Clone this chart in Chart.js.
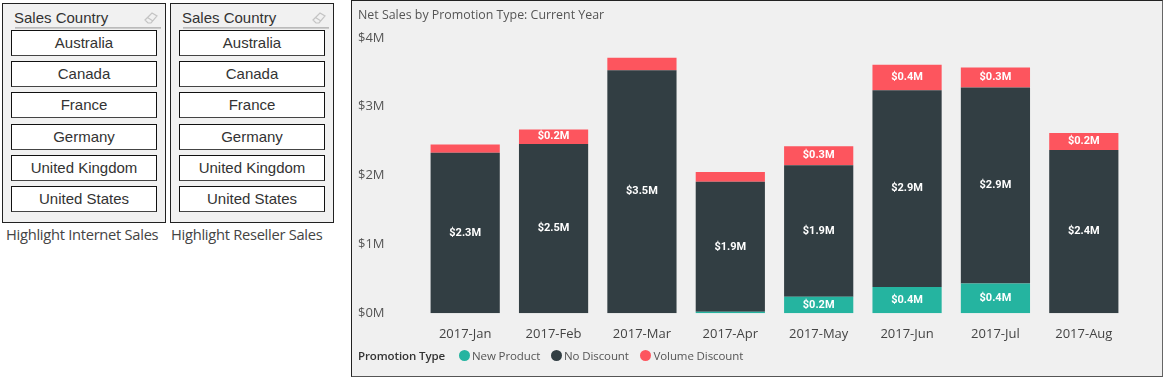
<!DOCTYPE html>
<html><head><meta charset="utf-8">
<script src="https://cdn.jsdelivr.net/npm/chart.js@4"></script>
<style>
html,body{margin:0;padding:0;background:#fff;width:1167px;height:382px;overflow:hidden}
.abs{position:absolute;white-space:nowrap}
.slicer{position:absolute;top:3px;width:162px;height:218px;border:1.5px solid #222;background:#f1f1f1;box-sizing:content-box}
.hdr{position:absolute;left:11px;top:4.5px;font:15px "Liberation Sans",Arial,sans-serif;color:#333}
.rule{position:absolute;left:12px;top:23px;width:146px;height:1px;background:#bbb;border-bottom:1px solid #ccc}
.btn{position:absolute;left:8px;width:144px;height:24px;border:1.5px solid #111;border-bottom-color:#444;background:#fff;text-align:center;font:15px/24px "Liberation Sans",Arial,sans-serif;color:#333}
.cap{font:14.7px "Open Sans",sans-serif;color:#444;letter-spacing:-.28px}
#panel{position:absolute;left:351px;top:0;width:810px;height:375px;background:#f0f0f0;border:1.5px solid #222;border-right-color:#666;border-bottom-color:#555;box-sizing:content-box}
#wrap{position:absolute;left:0;top:0;width:809px;height:374px}
.leg{font:11.5px "Open Sans",sans-serif;color:#555;letter-spacing:-.1px}
.dot{position:absolute;width:11px;height:11px;border-radius:50%}
</style></head><body>
<div id="slicers"></div>
<div id="panel"><div id="wrap"><canvas id="c" width="809" height="374"></canvas></div></div>
<div id="legend"></div>
<script>
const categories=["2017-Jan","2017-Feb","2017-Mar","2017-Apr","2017-May","2017-Jun","2017-Jul","2017-Aug"];
const newProduct=[0,0,0,0.02,0.24,0.38,0.43,0];
const noDiscount=[2.33,2.46,3.53,1.89,1.91,2.86,2.85,2.37];
const volumeDiscount=[0.12,0.21,0.18,0.14,0.276,0.37,0.29,0.249];
const yTicks=[0,1,2,3,4];
const countries=["Australia","Canada","France","Germany","United Kingdom","United States"];
const captions=["Highlight Internet Sales","Highlight Reseller Sales"];
const seriesNames=["New Product","No Discount","Volume Discount"];
const seriesColors=["#25B4A0","#323E43","#FD555E"];

// slicers
const tops=[26,57,88,119.5,151,182];
const eraser='<svg style="position:absolute;left:141px;top:8px" width="14" height="13" viewBox="0 0 14 13"><path d="M1 8 L8 1 L13 4 L7 11 L4 11 Z M3.5 5.5 L9 9" fill="none" stroke="#c4c4c4" stroke-width="1.2"/></svg>';
[2,170].forEach((x,i)=>{
  const s=document.createElement('div');s.className='slicer';s.style.left=x+'px';
  let h='<div class="hdr">Sales Country</div><div class="rule"></div>'+eraser;
  countries.forEach((c,j)=>{h+='<div class="btn" style="top:'+tops[j]+'px">'+c+'</div>';});
  s.innerHTML=h;document.body.appendChild(s);
  const t=document.createElement('div');t.className='abs cap';t.textContent=captions[i];
  t.style.left=(i?171:6)+'px';t.style.top='224px';document.body.appendChild(t);
});

// legend
const lg=document.getElementById('legend');
const lt=document.createElement('div');lt.className='abs leg';lt.textContent='Promotion Type';
lt.style.cssText+='left:358px;top:348px;font-weight:600;color:#333';lg.appendChild(lt);
const dotX=[458.5,550.5,640];
seriesNames.forEach((n,i)=>{
  const d=document.createElement('div');d.className='dot';d.style.left=dotX[i]+'px';d.style.top='350px';d.style.background=seriesColors[i];lg.appendChild(d);
  const t=document.createElement('div');t.className='abs leg';t.textContent=n;t.style.left=(dotX[i]+13.5)+'px';t.style.top='348px';lg.appendChild(t);
});

const barLabels={id:'barLabels',afterDatasetsDraw(chart){
  const ctx=chart.ctx;ctx.save();ctx.font='bold 11px "Roboto",sans-serif';ctx.fillStyle='#fff';ctx.textAlign='center';ctx.textBaseline='middle';
  chart.data.datasets.forEach((ds,di)=>{
    chart.getDatasetMeta(di).data.forEach((bar,i)=>{
      const v=ds.data[i];
      if(v>=0.2){ctx.fillText('$'+v.toFixed(1)+'M',bar.x,(bar.y+bar.base)/2);}
    });
  });ctx.restore();
}};
new Chart(document.getElementById('c'),{
  type:'bar',
  plugins:[barLabels],
  data:{labels:categories,datasets:[
    {label:seriesNames[0],data:newProduct,backgroundColor:seriesColors[0]},
    {label:seriesNames[1],data:noDiscount,backgroundColor:seriesColors[1]},
    {label:seriesNames[2],data:volumeDiscount,backgroundColor:seriesColors[2]}
  ]},
  options:{
    responsive:false,animation:false,
    layout:{padding:{left:6,right:33,top:7,bottom:0}},
    datasets:{bar:{categoryPercentage:1,barPercentage:0.783,borderWidth:0}},
    plugins:{
      legend:{display:false},tooltip:{enabled:false},
      title:{display:true,text:'Net Sales by Promotion Type: Current Year',align:'start',color:'#555',
        font:{family:'"Open Sans",sans-serif',size:12.4,weight:'normal'},padding:{top:0,bottom:15}}
    },
    scales:{
      x:{stacked:true,grid:{display:false},border:{display:false},
        ticks:{color:'#444',font:{family:'"Open Sans",sans-serif',size:13},padding:5,maxRotation:0,autoSkip:false},
        afterFit(s){s.height=61.8;}},
      y:{stacked:true,min:0,max:4,grid:{display:false},border:{display:false},
        afterBuildTicks(s){s.ticks=yTicks.map(v=>({value:v}));},
        ticks:{color:'#555',font:{family:'"Open Sans",sans-serif',size:13},crossAlign:'far',callback:v=>'$'+v+'M'},
        afterFit(s){s.width=63;}}
    }
  }
});
</script>
</body></html>
